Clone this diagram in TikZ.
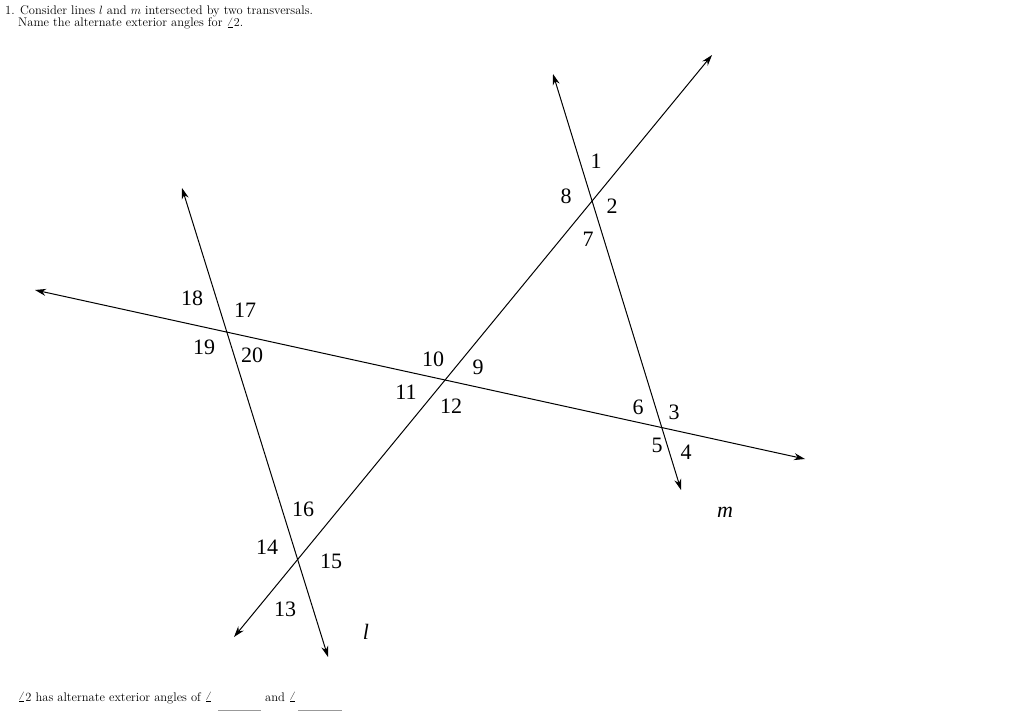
\documentclass[tikz,border=0pt]{standalone}
\usepackage{fontspec}
\usepackage{tikz}
\usetikzlibrary{arrows.meta}   % arrow tips

\newfontfamily\figfont{Liberation Serif}

\begin{document}
\begin{tikzpicture}[x=1pt,y=-1pt,
    ray/.style={line width=1pt,
                {Stealth[length=11pt,width=7pt]}-{Stealth[length=11pt,width=7pt]}},
    num/.style={font=\figfont\fontsize{22}{22}\selectfont, inner sep=0pt},
    task/.style={font=\fontsize{12.5}{14}\selectfont, anchor=base west, inner sep=0pt},
    blank/.style={draw=gray!80, line width=0.6pt}]

    \useasboundingbox (0,0) rectangle (1024,727);

    % line l, line m and the two transversals
    \coordinate (lTop) at (182,188);
    \coordinate (lBot) at (328,657);
    \coordinate (mTop) at (553,74);
    \coordinate (mBot) at (681,490);
    \coordinate (tWest) at (35,290);
    \coordinate (tEast) at (805,459);
    \coordinate (dSouth) at (234,637);
    \coordinate (dNorth) at (712,55);

    \draw[ray] (lTop) -- (lBot);
    \draw[ray] (mTop) -- (mBot);
    \draw[ray] (tWest) -- (tEast);
    \draw[ray] (dSouth) -- (dNorth);

    % angle numbers
    \node[num] (a1)  at (596,161) {1};
    \node[num] (a2)  at (612,206) {2};
    \node[num] (a3)  at (674,412) {3};
    \node[num] (a4)  at (686,452) {4};
    \node[num] (a5)  at (657,445) {5};
    \node[num] (a6)  at (638,407) {6};
    \node[num] (a7)  at (588,239) {7};
    \node[num] (a8)  at (566,196) {8};
    \node[num] (a9)  at (478,367) {9};
    \node[num] (a10) at (433,359) {10};
    \node[num] (a11) at (406,392) {11};
    \node[num] (a12) at (451,406) {12};
    \node[num] (a13) at (285,609) {13};
    \node[num] (a14) at (267,547) {14};
    \node[num] (a15) at (331,561) {15};
    \node[num] (a16) at (303,509) {16};
    \node[num] (a17) at (245,310) {17};
    \node[num] (a18) at (192,298) {18};
    \node[num] (a19) at (204,347) {19};
    \node[num] (a20) at (252,355) {20};

    \node[num] (nameL) at (366,632) {\itshape l};
    \node[num] (nameM) at (725,512) {\itshape m};

    % question text
    \node[task] (ask1) at (5,15) {1. Consider lines $l$ and $m$ intersected by two transversals.};
    \node[task] (ask2) at (18,27) {Name the alternate exterior angles for $\angle 2$.};
    \node[task] (ans1) at (18,701) {$\angle$2 has alternate exterior angles of $\angle$};
    \node[task] (ans2) at (265,701) {and $\angle$};
    \draw[blank] (218,710) -- (261,710);
    \draw[blank] (298,710) -- (342,710);
\end{tikzpicture}
\end{document}
